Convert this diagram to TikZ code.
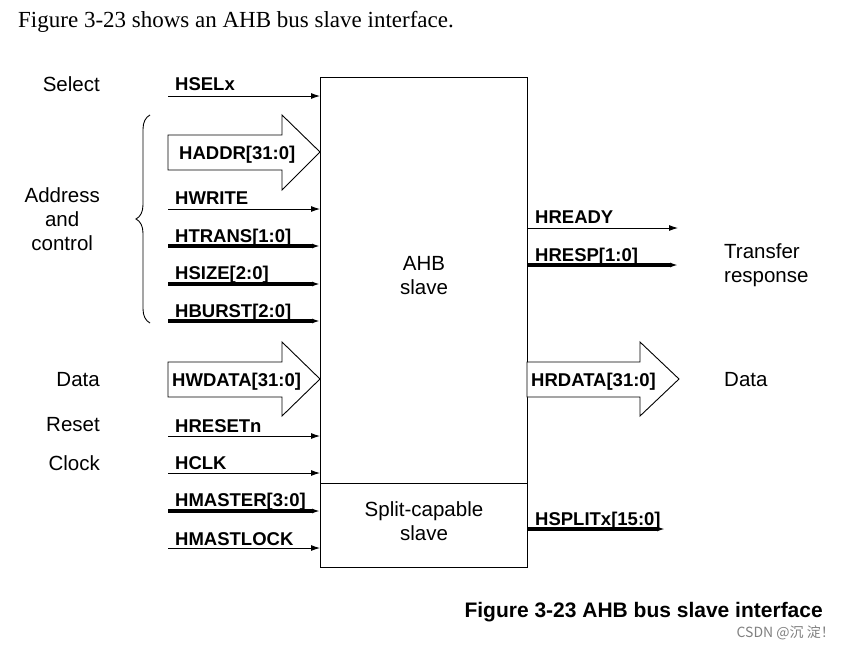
\documentclass[tikz,border=0pt]{standalone}
\usepackage{fontspec}
\setmainfont{Liberation Sans}
\newfontfamily\timesf{Liberation Serif}
\newfontfamily\cjk{Noto Sans CJK SC}
\usetikzlibrary{arrows.meta,decorations.pathreplacing}
\begin{document}
\begin{tikzpicture}[x=1pt,y=-1pt,
  thin sig/.style={draw=black,line width=0.9pt,-{Latex[length=9pt,width=6pt]}},
  thick sig/.style={draw=black,line width=3.2pt,-{Latex[length=8pt,width=5pt]}},
  sig/.style={font=\fontsize{18.5}{22}\selectfont\bfseries,anchor=base west,inner sep=0pt},
  lab/.style={font=\fontsize{20.5}{24}\selectfont,inner sep=0pt},
  bigarrow/.style={draw=black,line width=0.9pt,fill=white}]
\useasboundingbox (0,0) rectangle (845,648);
\node[font=\timesf\fontsize{23}{27}\selectfont,anchor=base west,inner sep=0pt] (intro) at (18,27) {Figure 3-23 shows an AHB bus slave interface.};
% main box
\draw[line width=0.9pt] (320,77) rectangle (527,567);
\draw[line width=0.9pt] (320,483) -- (527,483);
\node[lab,align=center] (ahb) at (424,276) {AHB\\slave};
\node[lab,align=center] (split) at (424,521) {Split-capable\\slave};
% inputs
\coordinate (s1) at (168,96); \coordinate (e1) at (320,96);
\draw[thin sig] (s1) -- (e1); \node[sig] (t1) at (175,90) {HSELx};
\draw[bigarrow] (168,135) -- (282,135) -- (282,115) -- (320,152) -- (282,190) -- (282,170) -- (168,170) -- cycle;
\node[sig] (t2) at (179,159) {HADDR[31:0]};
\coordinate (s3) at (168,209); \coordinate (e3) at (320,209);
\draw[thin sig] (s3) -- (e3); \node[sig] (t3) at (175,204) {HWRITE};
\coordinate (s4) at (168,246); \coordinate (e4) at (320,246);
\draw[thick sig] (s4) -- (e4); \node[sig] (t4) at (175,242) {HTRANS[1:0]};
\coordinate (s5) at (168,284); \coordinate (e5) at (320,284);
\draw[thick sig] (s5) -- (e5); \node[sig] (t5) at (175,279) {HSIZE[2:0]};
\coordinate (s6) at (168,321); \coordinate (e6) at (320,321);
\draw[thick sig] (s6) -- (e6); \node[sig] (t6) at (175,317) {HBURST[2:0]};
\draw[bigarrow] (168,362) -- (282,362) -- (282,342) -- (320,379) -- (282,416) -- (282,397) -- (168,397) -- cycle;
\node[sig] (t7) at (172,386) {HWDATA[31:0]};
\coordinate (s8) at (168,436); \coordinate (e8) at (320,436);
\draw[thin sig] (s8) -- (e8); \node[sig] (t8) at (175,432) {HRESETn};
\coordinate (s9) at (168,473); \coordinate (e9) at (320,473);
\draw[thin sig] (s9) -- (e9); \node[sig] (t9) at (175,469) {HCLK};
\coordinate (s10) at (168,511); \coordinate (e10) at (320,511);
\draw[thick sig] (s10) -- (e10); \node[sig] (t10) at (175,506) {HMASTER[3:0]};
\coordinate (s11) at (168,548); \coordinate (e11) at (320,548);
\draw[thin sig] (s11) -- (e11); \node[sig] (t11) at (175,545) {HMASTLOCK};
% outputs
\coordinate (o1) at (527,228); \coordinate (f1) at (678,228);
\draw[thin sig] (o1) -- (f1); \node[sig] (u1) at (535,223) {HREADY};
\coordinate (o2) at (527,265); \coordinate (f2) at (678,265);
\draw[thick sig] (o2) -- (f2); \node[sig] (u2) at (535,261) {HRESP[1:0]};
\draw[bigarrow] (527,362) -- (640,362) -- (640,342) -- (679,379) -- (640,416) -- (640,397) -- (527,397) -- cycle;
\node[sig] (u3) at (531,386) {HRDATA[31:0]};
\coordinate (o4) at (527,529); \coordinate (f4) at (665,529);
\draw[thick sig] (o4) -- (f4); \node[sig] (u4) at (535,525) {HSPLITx[15:0]};
% left labels
\node[lab,anchor=east] (sel) at (100,84) {Select};
\node[lab,anchor=east,align=center] (addr) at (100,219) {Address\\and\\control};
\node[lab,anchor=east] (dat) at (100,380) {Data};
\node[lab,anchor=east] (rst) at (100,425) {Reset};
\node[lab,anchor=east] (clk) at (100,463) {Clock};
\draw[line width=0.9pt,decorate,decoration={brace,amplitude=14pt,aspect=0.5}] (150,323) -- (150,115);
% right labels
\node[lab,anchor=west,align=left] (tr) at (724,265) {Transfer\\response};
\node[lab,anchor=west] (dr) at (724,380) {Data};
% caption
\node[font=\fontsize{21}{24}\selectfont\bfseries,anchor=base east,inner sep=0pt] (cap) at (823,617) {Figure 3-23 AHB bus slave interface};
\node[font=\cjk\fontsize{14}{16}\selectfont,text=gray,anchor=base east,inner sep=0pt] (wm) at (835,637) {CSDN @沉 淀！};
\end{tikzpicture}
\end{document}
